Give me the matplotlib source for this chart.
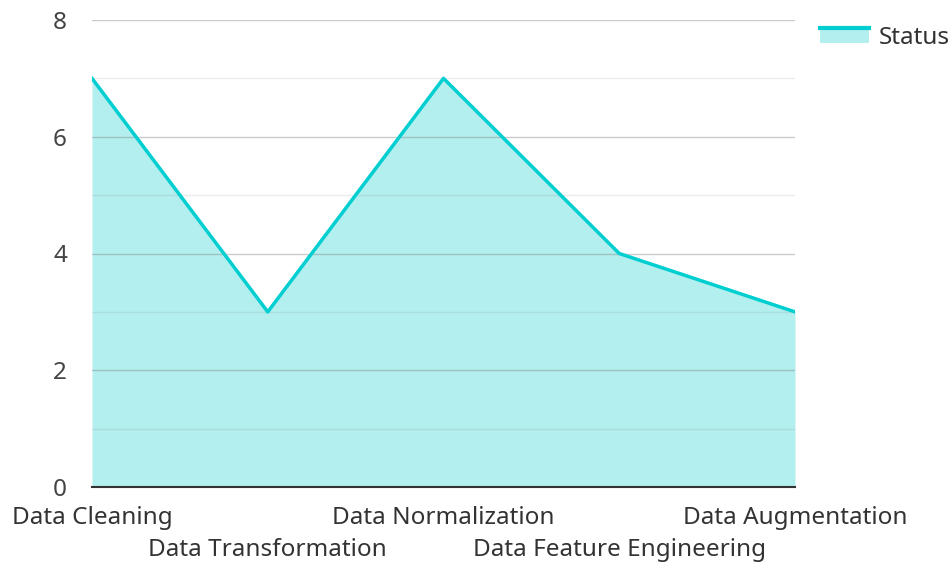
import matplotlib.pyplot as plt
from matplotlib.patches import Rectangle
from matplotlib.lines import Line2D
from matplotlib.legend_handler import HandlerBase

plt.rcParams['font.family'] = ['Noto Sans', 'DejaVu Sans']

# data
stages = ['Data Cleaning', 'Data Transformation', 'Data Normalization',
          'Data Feature Engineering', 'Data Augmentation']
status = [7, 3, 7, 4, 3]
series_name = 'Status'

line_color = '#00CED1'
fill_color = '#B2EFEE'
text_color = '#333333'
fs = 17.5


class AreaHandler(HandlerBase):
    # legend swatch: filled box with the line along its top edge
    def create_artists(self, legend, orig_handle, xdescent, ydescent,
                       width, height, fontsize, trans):
        x0, y0 = -xdescent, -ydescent
        rect = Rectangle((x0, y0), width, height, facecolor=fill_color,
                         edgecolor='none', transform=trans)
        ln = Line2D([x0, x0 + width], [y0 + height, y0 + height],
                    color=line_color, lw=3, transform=trans)
        return [rect, ln]


fig = plt.figure(figsize=(9.52, 5.62), dpi=100)
ax = fig.add_axes([92 / 952, 75 / 562, 703 / 952, 467 / 562])

x = list(range(len(stages)))
ax.fill_between(x, status, 0, color=fill_color, lw=0, zorder=1)
ax.plot(x, status, color=line_color, lw=2.5, zorder=3)

ax.set_xlim(0, len(stages) - 1)
ax.set_ylim(0, 8)

ax.set_yticks([0, 2, 4, 6, 8])
ax.set_yticks([1, 3, 5, 7], minor=True)
ax.grid(axis='y', which='major', color='#808080', alpha=0.4, lw=1, zorder=2)
ax.grid(axis='y', which='minor', color='#808080', alpha=0.15, lw=1, zorder=2)
ax.set_axisbelow(False)

# staggered category labels
ax.set_xticks(x[0::2])
ax.set_xticklabels(stages[0::2])
ax.set_xticks(x[1::2], minor=True)
ax.set_xticklabels(stages[1::2], minor=True)
ax.tick_params(axis='x', which='major', length=0, pad=14, labelsize=fs, labelcolor=text_color)
ax.tick_params(axis='x', which='minor', length=0, pad=37, labelsize=fs, labelcolor=text_color)
ax.tick_params(axis='y', which='both', length=0, pad=18, labelsize=fs, labelcolor='#444444')

for side in ['left', 'right', 'top']:
    ax.spines[side].set_visible(False)
ax.spines['bottom'].set_color('#333333')
ax.spines['bottom'].set_linewidth(1.5)
ax.spines['bottom'].set_zorder(4)

leg = ax.legend([object()], [series_name], handler_map={object: AreaHandler()},
                loc='upper left', bbox_to_anchor=(820 / 952, 1 - 26 / 562),
                bbox_transform=fig.transFigure, frameon=False,
                fontsize=fs, handlelength=2.0, handleheight=0.6,
                handletextpad=0.4, borderaxespad=0, borderpad=0)
for t in leg.get_texts():
    t.set_color(text_color)

fig.savefig('out.png', dpi=100)
